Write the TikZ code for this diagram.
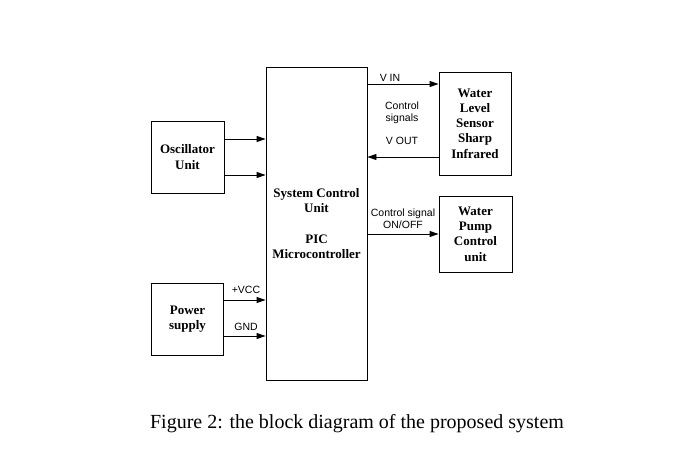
\documentclass[tikz,border=0pt]{standalone}
\usepackage{fontspec}
\setmainfont{Liberation Serif}
\setsansfont{Liberation Sans}
\usetikzlibrary{arrows.meta}
\begin{document}
\begin{tikzpicture}[x=1pt,y=-1pt,
  blk/.style={draw,line width=0.9pt,inner sep=0pt,align=center,
    font=\fontsize{13}{15.3}\selectfont\bfseries},
  arr/.style={line width=0.9pt,-{Triangle[length=9pt,width=6pt]}},
  lbl/.style={font=\sffamily\fontsize{10.5}{12}\selectfont,inner sep=0pt,align=center}]
\useasboundingbox (0,0) rectangle (682,470);
\node[blk,minimum width=73pt,minimum height=72pt] (osc) at (187.5,157) {Oscillator\\Unit};
\node[blk,minimum width=101pt,minimum height=313pt] (main) at (316.5,223.5) {System Control\\Unit\\[15.3pt]PIC\\Microcontroller};
\node[blk,minimum width=72pt,minimum height=103pt] (sensor) at (475,123.5) {Water\\Level\\Sensor\\Sharp\\Infrared};
\node[blk,minimum width=73pt,minimum height=76pt] (pump) at (475.5,234) {Water\\Pump\\Control\\unit};
\node[blk,minimum width=72pt,minimum height=72pt] (power) at (187.5,319) {Power\\supply};
% oscillator
\draw[arr] ([yshift=18pt]osc.east) -- ([yshift=18pt]osc.east -| main.west);
\draw[arr] ([yshift=-18pt]osc.east) -- ([yshift=-18pt]osc.east -| main.west);
% sensor
\draw[arr] ([yshift=39.5pt]sensor.west -| main.east) -- ([yshift=39.5pt]sensor.west);
\draw[arr] ([yshift=-33.5pt]sensor.west) -- ([yshift=-33.5pt]sensor.west -| main.east);
% pump
\draw[arr] (pump.west -| main.east) -- (pump.west);
% power
\draw[arr] ([yshift=19pt]power.east) -- ([yshift=19pt]power.east -| main.west);
\draw[arr] ([yshift=-17pt]power.east) -- ([yshift=-17pt]power.east -| main.west);
% labels
\node[lbl] (vin) at (390,78) {V IN};
\node[lbl] (ctrl) at (402,113) {Control\\signals};
\node[lbl] (vout) at (402,141) {V OUT};
\node[lbl] (onoff) at (403,219) {Control signal\\ON/OFF};
\node[lbl] (vcc) at (246,290) {+VCC};
\node[lbl] (gnd) at (246,327) {GND};
\node[font=\fontsize{20}{24}\selectfont,inner sep=0pt] (cap) at (357,424) {Figure 2: the block diagram of the proposed system};
\end{tikzpicture}
\end{document}
